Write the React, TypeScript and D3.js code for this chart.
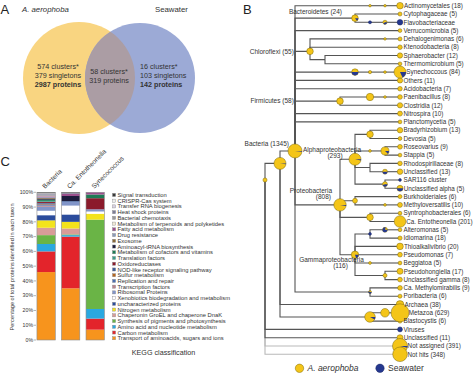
import React from 'react';
import * as d3 from 'd3';

const W = 474;
const H = 377;
const FONT = "'Liberation Sans', Arial, Helvetica, sans-serif";
const TXT = '#333333';

// ---------- Panel A : Venn ----------
const vennSets = ['A. aerophoba', 'Seawater'];
const aerophobaOnly = ['574 clusters*', '379 singletons', '2987 proteins'];
const sharedText = ['58 clusters*', '319 proteins'];
const seawaterOnly = ['16 clusters*', '103 singletons', '142 proteins'];

// ---------- Panel C : stacked bars ----------
const taxa = ['Bacteria', 'Ca. Entotheonella', 'Synecococcus'];
const keggCategories = [
  'Signal transduction',
  'CRISPR-Cas system',
  'Transfer RNA biogenesis',
  'Heat shock proteins',
  'Bacterial chemotaxis',
  'Metabolism of terpenoids and polyketides',
  'Fatty acid metabolism',
  'Drug resistance',
  'Exosome',
  'Aminoacyl-tRNA biosynthesis',
  'Metabolism of cofactors and vitamins',
  'Translation factors',
  'Oxidoreductases',
  'NOD-like receptor signaling pathway',
  'Sulfur metabolism',
  'Replication and repair',
  'Transcription factors',
  'Ribosomal Proteins',
  'Xenobiotics biodegradation and metabolism',
  'uncharacterized proteins',
  'Nitrogen metabolism',
  'Chaperonin GroEL and chaperone DnaK',
  'Synthesis of pigments and photosynthesis',
  'Amino acid and nucleotide metabolism',
  'Carbon metabolism',
  'Transport of aminoacids, sugars and ions',
];
const keggColors = [
  '#3a3a3a', '#ececec', '#d9d2e3', '#7d7d96', '#9a9a9a', '#efe9d6',
  '#9b4f8c', '#8a9ab8', '#8b6a3a', '#1c1c3c', '#1e7b55', '#3d9c8a',
  '#8b1a2b', '#3a5a9a', '#b5651d', '#4a6fb0', '#b98590', '#8195c9',
  '#ffffff', '#2b4c9c', '#f3e31c', '#d89c98', '#6ab446', '#2aa8e0',
  '#e3242b', '#f7941d',
];
const bacteriaPct = [0.7, 0.3, 0.3, 0.6, 0.5, 0.3, 0.6, 0.5, 0.5, 0.7, 0.8, 0.6, 0.8, 0.5, 0.5, 0.8, 0.8, 2.7, 3, 3.5, 5, 5, 6, 5, 14, 46];
const entotheonellaPct = [0.5, 0, 0, 0.5, 0, 0, 1.5, 0, 0, 3.5, 0, 0, 0, 0, 0, 0.5, 0, 2.5, 6, 5, 4.5, 4, 0.5, 1, 35, 35];
const synechococcusPct = [0, 0, 0, 0, 0, 0, 1.5, 0, 0, 0, 2.5, 0, 7.5, 0, 0, 0, 0, 1.5, 1.5, 0, 4, 0, 60.5, 6.5, 7.5, 7];
const pctTicks = [0, 10, 20, 30, 40, 50, 60, 70, 80, 90, 100];

// ---------- Panel B : taxonomy tree ----------
// id, parent, rank level, circle size, seawater fraction, leaf label
const treeNodes: [string, string, number, number, number, string][] = [
  ['root', '', 0, 8, 0, ''],
  ['cellular', 'root', 1, 240, 0.02, ''],
  ['bacteria', 'cellular', 2, 350, 0.02, ''],
  ['actino7', 'bacteria', 7, 0.05, 0, ''],
  ['actino8', 'actino7', 8, 0.05, 0, ''],
  ['actinomycetales', 'actino8', 9, 46, 0, 'Actinomycetales (18)'],
  ['bacteroidetes', 'bacteria', 6, 46, 0.15, ''],
  ['cytophagaceae', 'bacteroidetes', 9, 7, 0, 'Cytophagaceae (5)'],
  ['flavo7', 'bacteroidetes', 7, 1, 1, ''],
  ['flavo8', 'flavo7', 8, 8, 0.4, ''],
  ['flavobacteriaceae', 'flavo8', 9, 27, 1, 'Flavobacteriaceae'],
  ['verrucomicrobia', 'bacteria', 9, 5, 0, 'Verrucomicrobia (5)'],
  ['chloroflexi', 'bacteria', 3, 46, 0, ''],
  ['dehalo8', 'chloroflexi', 8, 0.05, 0, ''],
  ['dehalogenimonas', 'dehalo8', 9, 7, 0, 'Dehalogenimonas (6)'],
  ['ktedonobacteria', 'chloroflexi', 9, 12, 0, 'Ktenodobacteria (8)'],
  ['thermomicrobia', 'chloroflexi', 4, 0, 0, ''],
  ['sphaerobacter', 'thermomicrobia', 9, 22, 0, 'Sphaerobacter (12)'],
  ['thermomicrobium', 'thermomicrobia', 9, 5, 0, 'Thermomicrobium (5)'],
  ['syn6', 'bacteria', 6, 46, 0.5, ''],
  ['syn7', 'syn6', 7, 2, 0, ''],
  ['syn8', 'syn7', 8, 0.3, 0, ''],
  ['synechococcus', 'syn8', 9, 240, 0.18, 'Synechoccous (84)'],
  ['others', 'bacteria', 9, 22, 0, 'Others (11)'],
  ['acidobacteria', 'bacteria', 9, 12, 0, 'Acidobacteria (7)'],
  ['firmicutes', 'bacteria', 5, 46, 0, ''],
  ['paeni7', 'firmicutes', 7, 65, 0, ''],
  ['paeni8', 'paeni7', 8, 0.3, 0, ''],
  ['paenibacillus', 'paeni8', 9, 14, 0, 'Paenibacillus (8)'],
  ['clostridia', 'firmicutes', 9, 22, 0, 'Clostridia (12)'],
  ['nitrospira', 'bacteria', 9, 17, 0, 'Nitrospira (10)'],
  ['planctomycetia', 'bacteria', 9, 5, 0, 'Planctomycetia (5)'],
  ['proteobacteria', 'bacteria', 5, 260, 0.03, ''],
  ['alpha', 'proteobacteria', 6, 240, 0.03, ''],
  ['rhizobiales', 'alpha', 7, 46, 0, ''],
  ['bradyrhizobium', 'rhizobiales', 9, 25, 0, 'Bradyrhizobium (13)'],
  ['devosia', 'rhizobiales', 9, 5, 0, 'Devosia (5)'],
  ['rhodobac7', 'alpha', 7, 0.3, 0, ''],
  ['rhodobacterales', 'rhodobac7', 8, 82, 0.12, ''],
  ['roseovarius', 'rhodobacterales', 9, 15, 0, 'Roseovarius (9)'],
  ['stappia', 'rhodobacterales', 9, 5, 0, 'Stappia (5)'],
  ['rhodospirillales', 'alpha', 7, 0, 0, ''],
  ['rhodospirillaceae', 'rhodospirillales', 9, 12, 0, 'Rhodospirillaceae (8)'],
  ['uncl13_8', 'rhodospirillales', 8, 17, 0.5, ''],
  ['unclassified13', 'uncl13_8', 9, 25, 0, 'Unclassified (13)'],
  ['sar116grp', 'alpha', 8, 17, 0.45, ''],
  ['sar116', 'sar116grp', 9, 0.4, 1, 'SAR116 cluster'],
  ['unclalpha', 'sar116grp', 9, 34, 0.5, 'Unclassified alpha (5)'],
  ['beta', 'proteobacteria', 6, 17, 0, ''],
  ['burkholderiales', 'beta', 9, 7, 0, 'Burkholderiales (6)'],
  ['methylo8', 'beta', 8, 0.3, 0, ''],
  ['methyloversatilis', 'methylo8', 9, 17, 0, 'Methyloversatilis (10)'],
  ['delta', 'proteobacteria', 7, 46, 0, ''],
  ['syntrophobacterales', 'delta', 9, 5, 0, 'Syntrophobacterales (6)'],
  ['entotheonella', 'delta', 9, 220, 0, 'Ca. Entotheonella (201)'],
  ['gamma', 'proteobacteria', 6, 65, 0.2, ''],
  ['alteromonadales', 'gamma', 7, 0.5, 1, ''],
  ['altero8', 'alteromonadales', 8, 17, 0.8, ''],
  ['alteromonas', 'altero8', 9, 5, 0, 'Alteromonas (5)'],
  ['idiomarina', 'alteromonadales', 9, 9, 0, 'Idiomarina (18)'],
  ['thioalkalivibrio', 'gamma', 9, 46, 0, 'Thioalkalivibrio (20)'],
  ['pseudomonas', 'gamma', 9, 14, 0, 'Pseudomonas (7)'],
  ['beggia7', 'gamma', 7, 0.5, 0, ''],
  ['beggiatoa', 'beggia7', 9, 5, 0, 'Beggiatoa (5)'],
  ['pseudohgrp', 'gamma', 8, 7, 0, ''],
  ['pseudohongiella', 'pseudohgrp', 9, 34, 0, 'Pseudohongiella (17)'],
  ['unclgamma', 'pseudohgrp', 9, 14, 0, 'Unclassified gamma (8)'],
  ['methylogrp', 'bacteria', 7, 1, 0.6, ''],
  ['methylomirabilis', 'methylogrp', 9, 14, 0, 'Ca. Methylomirabilis (9)'],
  ['poribacteria', 'methylogrp', 9, 7, 0, 'Poribacteria (6)'],
  ['archaea', 'cellular', 9, 75, 0, 'Archaea (38)'],
  ['eukaryota', 'cellular', 7, 175, 0.08, ''],
  ['metazoa8', 'eukaryota', 8, 100, 0, ''],
  ['metazoa', 'metazoa8', 9, 629, 0, 'Metazoa (629)'],
  ['blastocystis', 'eukaryota', 9, 7, 0, 'Blastocystis (6)'],
  ['viruses', 'root', 9, 17, 1, 'Viruses'],
  ['unclassified11', 'root', 9, 34, 0, 'Unclassified (11)'],
  ['notassigned', 'root', 9, 415, 0.04, 'Not assigned (391)'],
  ['nothits', 'root', 9, 385, 0, 'Not hits (348)'],
];
const faintBranches = ['notassigned', 'nothits'];
const cladeLabels: [string, string[]][] = [
  ['bacteroidetes', ['Bacteroidetes (24)']],
  ['chloroflexi', ['Chloroflexi (55)']],
  ['firmicutes', ['Firmicutes (58)']],
  ['bacteria', ['Bacteria (1345)']],
  ['alpha', ['Alphaproteobacteria', '(293)']],
  ['proteobacteria', ['Proteobacteria', '(808)']],
  ['gamma', ['Gammaproteobacteria', '(116)']],
];
const treeLegend = ['A. aerophoba', 'Seawater'];

const YELLOW = '#f4c518';
const BLUE = '#25388f';

function Venn() {
  const yC = { cx: 79, cy: 78, r: 56 };
  const bC = { cx: 140, cy: 78, r: 55 };
  const fs = 7.2;
  return (
    <g>
      <defs>
        <clipPath id="clipYellow">
          <circle cx={yC.cx} cy={yC.cy} r={yC.r} />
        </clipPath>
      </defs>
      <text x={0.5} y={14} fontSize={13} fill="#222">A</text>
      <text x={22} y={12} fontSize={7.8} fontStyle="italic" fill={TXT}>{vennSets[0]}</text>
      <text x={155} y={12} fontSize={7.8} fill={TXT}>{vennSets[1]}</text>
      <circle cx={yC.cx} cy={yC.cy} r={yC.r} fill="#f9d581" />
      <circle cx={bC.cx} cy={bC.cy} r={bC.r} fill="#9caad6" />
      <circle cx={bC.cx} cy={bC.cy} r={bC.r} fill="#ab9da4" clipPath="url(#clipYellow)" />
      {aerophobaOnly.map((t, i) => (
        <text key={t} x={58} y={69 + i * 9} fontSize={fs} textAnchor="middle" fill={TXT} fontWeight={i === 2 ? 'bold' : 'normal'}>{t}</text>
      ))}
      {sharedText.map((t, i) => (
        <text key={t} x={109} y={74 + i * 9} fontSize={fs} textAnchor="middle" fill={TXT}>{t}</text>
      ))}
      {seawaterOnly.map((t, i) => (
        <text key={t} x={140} y={69 + i * 9} fontSize={fs} fill={TXT} fontWeight={i === 2 ? 'bold' : 'normal'}>{t}</text>
      ))}
    </g>
  );
}

function Bars() {
  const y = d3.scaleLinear().domain([0, 100]).range([340, 192.3]);
  const x = d3.scaleBand<string>().domain(taxa).range([34.5, 106.8]).paddingInner(0.253).paddingOuter(0.1);
  const values = [bacteriaPct, entotheonellaPct, synechococcusPct];
  const rows = taxa.map((t, ti) => {
    const r: any = { taxon: t };
    keggCategories.forEach((c, ci) => (r[c] = values[ti][ci]));
    return r;
  });
  const keys = [...keggCategories].reverse();
  const series = d3.stack<any>().keys(keys)(rows);
  const color = d3.scaleOrdinal<string, string>().domain(keggCategories).range(keggColors);
  const legendY = d3.scalePoint<string>().domain(keggCategories).range([195, 338.3]);
  return (
    <g>
      <text x={0.5} y={166} fontSize={13} fill="#222">C</text>
      <text transform="translate(13.5,267) rotate(-90)" fontSize={5.6} textAnchor="middle" fill={TXT}>
        Percentage of total proteins identified in each taxon
      </text>
      {pctTicks.map((t) => (
        <g key={t}>
          <line x1={33.6} x2={36} y1={y(t)} y2={y(t)} stroke="#666" strokeWidth={0.5} />
          <text x={33} y={y(t) + 1.8} fontSize={5.2} textAnchor="end" fill={TXT}>{t}%</text>
        </g>
      ))}
      {series.map((s) =>
        s.map((d, i) => {
          const h = y(d[0]) - y(d[1]);
          if (h <= 0) return null;
          return (
            <rect key={s.key + i} x={x(taxa[i])} y={y(d[1])} width={x.bandwidth()} height={h} fill={color(s.key)} />
          );
        })
      )}
      {taxa.map((t) => (
        <rect key={t} x={x(t)} y={y(100)} width={x.bandwidth()} height={y(0) - y(100)} fill="none" stroke="#8a8a8a" strokeWidth={0.6} />
      ))}
      {taxa.map((t) => (
        <text key={t} transform={`translate(${(x(t) as number) + x.bandwidth() / 2 - 1},189) rotate(-45)`} fontSize={6.6} fill={TXT}>{t}</text>
      ))}
      {keggCategories.map((c) => (
        <g key={c}>
          <rect x={112.5} y={(legendY(c) as number) - 1.6} width={3.1} height={3.1} fill={color(c)} stroke="#888" strokeWidth={0.4} />
          <text x={117.5} y={(legendY(c) as number) + 2} fontSize={5.8} fill={TXT}>{c}</text>
        </g>
      ))}
      <text x={163.5} y={355} fontSize={7.2} textAnchor="middle" fill={TXT}>KEGG classification</text>
    </g>
  );
}

function Tree() {
  const root = d3
    .stratify<[string, string, number, number, number, string]>()
    .id((d) => d[0])
    .parentId((d) => (d[1] === '' ? null : d[1]))(treeNodes);
  const leaves = root.leaves();
  const yLeaf = d3.scaleLinear().domain([0, leaves.length - 1]).range([5.7, 354.3]);
  const xLevel = d3.scaleLinear().domain([0, 9]).range([265, 400]);
  const rScale = d3.scaleSqrt().domain([0, 629]).range([0, 0.31 * Math.sqrt(629)]);
  const radius = (s: number) => (s > 0 ? 1.2 + rScale(s) : 0);
  const leafIndex = new Map<string, number>();
  leaves.forEach((l, i) => leafIndex.set(l.id as string, i));
  const pos = new Map<string, { x: number; y: number }>();
  root.each((n) => {
    const ys = n.leaves().map((l) => yLeaf(leafIndex.get(l.id as string) as number));
    pos.set(n.id as string, { x: xLevel(n.data[2]), y: d3.mean(ys) as number });
  });
  const faint = new Set(faintBranches);
  const links = root.descendants().filter((n) => n.parent);
  const linkPath = (n: any) => {
    const p = pos.get(n.parent.id)!;
    const c = pos.get(n.id)!;
    return `M${p.x},${p.y}V${c.y}H${c.x}`;
  };
  const arc = d3.arc();
  const nodes = root.descendants().filter((n) => n.data[3] > 0);
  const P = (id: string) => pos.get(id)!;
  const labelPlacement: Record<string, { dx: number; dy: number; anchor: string }[]> = {
    bacteroidetes: [{ dx: -13, dy: -4, anchor: 'end' }],
    chloroflexi: [{ dx: xLevel(2) - xLevel(3) - 1.2, dy: 2.3, anchor: 'end' }],
    firmicutes: [{ dx: xLevel(2) - xLevel(5) - 1.2, dy: 2.3, anchor: 'end' }],
    bacteria: [{ dx: -6, dy: -5.2, anchor: 'end' }],
    alpha: [{ dx: -23, dy: -7, anchor: 'middle' }, { dx: -20, dy: -0.8, anchor: 'middle' }],
    proteobacteria: [{ dx: -8, dy: -12, anchor: 'end' }, { dx: -9, dy: -5.6, anchor: 'end' }],
    gamma: [{ dx: -23.5, dy: 6.9, anchor: 'middle' }, { dx: -14.5, dy: 13.5, anchor: 'middle' }],
  };
  return (
    <g>
      <text x={243} y={14} fontSize={13} fill="#222">B</text>
      {links.filter((n) => faint.has(n.id as string)).map((n) => (
        <path key={'f' + n.id} d={linkPath(n)} fill="none" stroke="#b9b9b9" strokeWidth={1.1} />
      ))}
      {links.filter((n) => !faint.has(n.id as string)).map((n) => (
        <path key={'l' + n.id} d={linkPath(n)} fill="none" stroke="#555" strokeWidth={1.1} />
      ))}
      {nodes.map((n) => {
        const { x, y } = P(n.id as string);
        const r = radius(n.data[3]);
        const f = n.data[4];
        return (
          <g key={'n' + n.id} transform={`translate(${x},${y})`}>
            <circle r={r} fill={f >= 1 ? BLUE : YELLOW} stroke={f >= 1 ? '#1b2866' : '#7d6a0c'} strokeWidth={0.5} />
            {f > 0 && f < 1 && (
              <path
                d={arc({ innerRadius: 0, outerRadius: r, startAngle: Math.PI / 2, endAngle: Math.PI / 2 + 2 * Math.PI * f } as any) as string}
                fill={BLUE}
              />
            )}
          </g>
        );
      })}
      {leaves.map((l) => {
        const { x, y } = P(l.id as string);
        const r = radius(l.data[3]);
        return (
          <text key={'t' + l.id} x={x + Math.max(3.5, r * 0.85 + 1.2)} y={y + 2.2} fontSize={6.3} fill={TXT}>{l.data[5]}</text>
        );
      })}
      {cladeLabels.map(([id, lines]) => {
        const p = P(id);
        return lines.map((t, i) => {
          const pl = labelPlacement[id][i];
          return (
            <text key={id + i} x={p.x + pl.dx} y={p.y + pl.dy} fontSize={6.5} textAnchor={pl.anchor as any} fill={TXT}>{t}</text>
          );
        });
      })}
      {treeLegend.map((t, i) => (
        <g key={t} transform={`translate(${299.5 + i * 80.5},368.3)`}>
          <circle r={4.2} fill={i === 0 ? YELLOW : BLUE} stroke={i === 0 ? '#7d6a0c' : '#1b2866'} strokeWidth={0.5} />
          <text x={8} y={3} fontSize={8.5} fontStyle={i === 0 ? 'italic' : 'normal'} fill={TXT}>{t}</text>
        </g>
      ))}
    </g>
  );
}

export default function App() {
  return (
    <svg
      width={W}
      height={H}
      viewBox={`0 0 ${W} ${H}`}
      style={{ position: 'absolute', left: 0, top: 0, background: '#fff' }}
      fontFamily={FONT}
    >
      <rect width={W} height={H} fill="#fff" />
      <Venn />
      <Bars />
      <Tree />
    </svg>
  );
}
